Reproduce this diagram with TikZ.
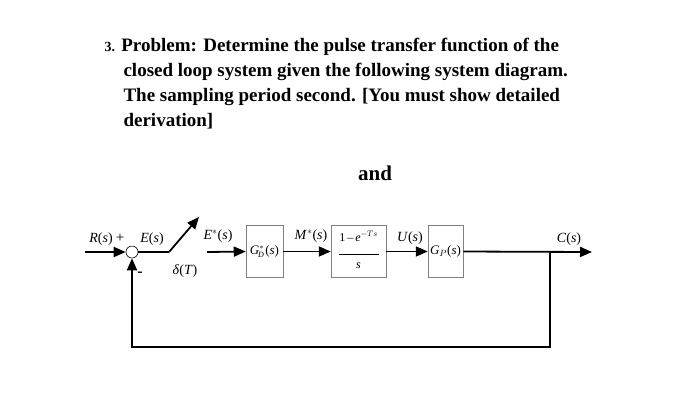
\documentclass[tikz,border=0pt]{standalone}
\usepackage{fontspec}
\setmainfont{Liberation Serif}
\usetikzlibrary{arrows.meta}
\newcommand{\iv}[1]{\textit{#1}}
\begin{document}
\begin{tikzpicture}[x=1pt,y=-1pt,
  sig/.style={line width=1.8pt,-{Triangle[length=12pt,width=10pt]}},
  wire/.style={line width=1.8pt},
  blk/.style={draw=gray,line width=0.5pt,minimum width=37pt,minimum height=52pt,inner sep=1pt,font=\fontsize{13}{15}\selectfont},
  lbl/.style={font=\fontsize{14}{16}\selectfont}]
\useasboundingbox[fill=white] (0,0) rectangle (700,416);
\node[anchor=north west,align=left,font=\fontsize{19}{25}\selectfont\bfseries] (title) at (101,35)
 {{\fontsize{14}{15}\selectfont 3.} Problem: Determine the pulse transfer function of the\\
 \hspace*{19pt}closed loop system given the following system diagram.\\
 \hspace*{19pt}The sampling period second. [You must show detailed\\
 \hspace*{19pt}derivation]};
\node[font=\fontsize{21}{24}\selectfont\bfseries] (and) at (375,173) {and};
\coordinate (rin) at (85,252);
\node[draw,circle,minimum size=12pt,inner sep=0pt,line width=0.6pt] (sum) at (132,252) {};
\coordinate (sw1) at (169,252);
\coordinate (sw2) at (199,217);
\coordinate (es) at (207,252);
\node[blk,minimum width=37pt] (gd) at (264.5,251.5) {\iv{G}\raisebox{0pt}[0pt][0pt]{\makebox[6pt][l]{\fontsize{8}{8}\selectfont\raisebox{5pt}{$\ast$}\hspace{-5.5pt}\raisebox{-3pt}{\iv{D}}}}(\iv{s})};
\node[blk,minimum width=55pt] (zoh) at (358.5,251.5) {\begin{tabular}{@{}c@{}}\fontsize{12}{13}\selectfont 1\,–\,\iv{e}$^{-Ts}$\\[-2pt]\rule{40pt}{0.4pt}\\[-1pt]\fontsize{12}{13}\selectfont\iv{s}\end{tabular}};
\node[blk,minimum width=35pt] (gp) at (445.5,251.5) {\iv{G}$_{P}$(\iv{s})};
\coordinate (tap) at (550,252);
\coordinate (out) at (592,252);
\coordinate (bot1) at (550,347);
\coordinate (bot2) at (132,347);
\draw[sig] (rin) -- (sum.west);
\draw[wire] (sum.east) -- (sw1);
\draw[sig] (sw1) -- (sw2);
\draw[sig] (es) -- (gd.west);
\draw[sig] (gd.east) -- (zoh.west);
\draw[sig] (zoh.east) -- (gp.west);
\draw[sig] (gp.east) -- (out);
\draw[sig] (tap) -- (bot1) -- (bot2) -- (sum.south);
\node[lbl] (lr) at (101,239) {\iv{R}(\iv{s})};
\node[font=\fontsize{15}{16}\selectfont] (lp) at (120,238) {+};
\node[lbl] (le) at (152,239) {\iv{E}(\iv{s})};
\node[font=\bfseries\fontsize{16}{16}\selectfont] (lm) at (140,274) {-};
\node[lbl] (ld) at (185,271) {\iv{δ}(\iv{T})};
\node[lbl] (les) at (218,236) {\iv{E}$^{\ast}$(\iv{s})};
\node[lbl] (lms) at (311,236) {\iv{M}$^{\ast}$(\iv{s})};
\node[lbl] (lu) at (410,238) {\iv{U}(\iv{s})};
\node[lbl] (lc) at (569,239) {\iv{C}(\iv{s})};
\end{tikzpicture}
\end{document}
